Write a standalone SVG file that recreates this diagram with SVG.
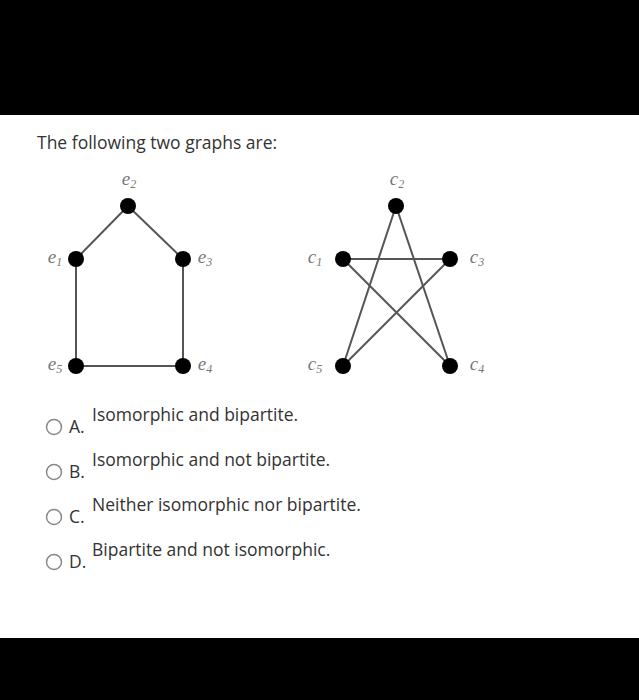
<svg xmlns="http://www.w3.org/2000/svg" width="639" height="700" viewBox="0 0 639 700">
<style>
.t{font-family:"Open Sans","Noto Sans",sans-serif;font-size:17.5px;fill:#333}
.lbl{font-family:"Liberation Serif",serif;font-style:italic;font-size:19px;fill:#777}
.e{stroke:#555;stroke-width:2}
.n{fill:#000}
.r{fill:#fff;stroke:#888;stroke-width:1.5}
</style>
<rect width="639" height="700" fill="#fff"/>
<rect width="639" height="115" fill="#000"/>
<rect y="638" width="639" height="62" fill="#000"/>
<text class="t" x="37" y="149">The following two graphs are:</text>
<g id="connectors">
<line class="e" x1="76" y1="259" x2="128" y2="206"/>
<line class="e" x1="128" y1="206" x2="183" y2="259"/>
<line class="e" x1="183" y1="259" x2="183" y2="366"/>
<line class="e" x1="183" y1="366" x2="76" y2="366"/>
<line class="e" x1="76" y1="366" x2="76" y2="259"/>
<line class="e" x1="343" y1="259" x2="450" y2="259"/>
<line class="e" x1="343" y1="259" x2="450" y2="366"/>
<line class="e" x1="396" y1="206" x2="343" y2="366"/>
<line class="e" x1="396" y1="206" x2="450" y2="366"/>
<line class="e" x1="450" y1="259" x2="343" y2="366"/>
</g>
<g id="e1"><circle class="n" cx="76" cy="259" r="8"/><text class="lbl" x="55" y="263" text-anchor="middle">e<tspan font-size="12" dy="3">1</tspan></text></g>
<g id="e2"><circle class="n" cx="128" cy="206" r="8"/><text class="lbl" x="129" y="185" text-anchor="middle">e<tspan font-size="12" dy="3">2</tspan></text></g>
<g id="e3"><circle class="n" cx="183" cy="259" r="8"/><text class="lbl" x="205" y="263" text-anchor="middle">e<tspan font-size="12" dy="3">3</tspan></text></g>
<g id="e4"><circle class="n" cx="183" cy="366" r="8"/><text class="lbl" x="205" y="370" text-anchor="middle">e<tspan font-size="12" dy="3">4</tspan></text></g>
<g id="e5"><circle class="n" cx="76" cy="366" r="8"/><text class="lbl" x="55" y="370" text-anchor="middle">e<tspan font-size="12" dy="3">5</tspan></text></g>
<g id="c1"><circle class="n" cx="343" cy="259" r="8"/><text class="lbl" x="315" y="263" text-anchor="middle">c<tspan font-size="12" dy="3">1</tspan></text></g>
<g id="c2"><circle class="n" cx="396" cy="206" r="8"/><text class="lbl" x="397" y="185" text-anchor="middle">c<tspan font-size="12" dy="3">2</tspan></text></g>
<g id="c3"><circle class="n" cx="450" cy="259" r="8"/><text class="lbl" x="477" y="263" text-anchor="middle">c<tspan font-size="12" dy="3">3</tspan></text></g>
<g id="c4"><circle class="n" cx="450" cy="366" r="8"/><text class="lbl" x="477" y="370" text-anchor="middle">c<tspan font-size="12" dy="3">4</tspan></text></g>
<g id="c5"><circle class="n" cx="343" cy="366" r="8"/><text class="lbl" x="315" y="370" text-anchor="middle">c<tspan font-size="12" dy="3">5</tspan></text></g>
<g id="optA"><circle class="r" cx="54" cy="427" r="7.5"/><text class="t" x="69" y="433">A.</text><text class="t" x="92" y="421">Isomorphic and bipartite.</text></g>
<g id="optB"><circle class="r" cx="54" cy="472" r="7.5"/><text class="t" x="69" y="478">B.</text><text class="t" x="92" y="466">Isomorphic and not bipartite.</text></g>
<g id="optC"><circle class="r" cx="54" cy="517" r="7.5"/><text class="t" x="69" y="523">C.</text><text class="t" x="92" y="511">Neither isomorphic nor bipartite.</text></g>
<g id="optD"><circle class="r" cx="54" cy="562" r="7.5"/><text class="t" x="69" y="568">D.</text><text class="t" x="92" y="556">Bipartite and not isomorphic.</text></g>
</svg>
